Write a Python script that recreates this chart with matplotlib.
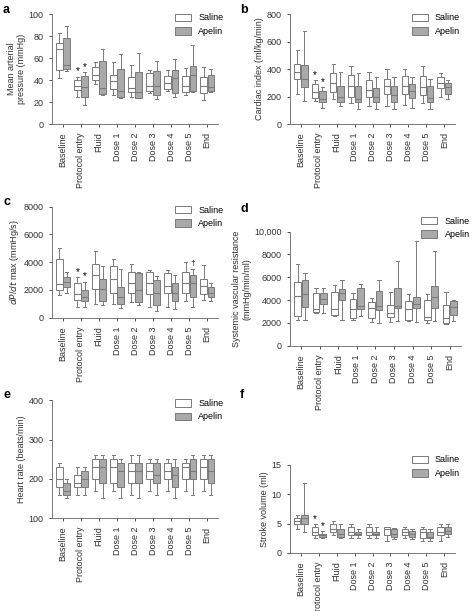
import matplotlib.pyplot as plt
from matplotlib.patches import Patch

categories = ["Baseline", "Protocol entry", "Fluid", "Dose 1", "Dose 2",
              "Dose 3", "Dose 4", "Dose 5", "End"]

# each box: [whisker low, q1, median, q3, whisker high]
map_saline = [[42, 49, 68, 74, 83], [25, 31, 35, 40, 43], [36, 40, 45, 52, 56],
              [26, 32, 39, 45, 56], [25, 29, 33, 43, 54], [28, 30, 35, 46, 49],
              [30, 32, 37, 44, 49], [26, 29, 35, 44, 51], [22, 28, 35, 43, 52]]
map_apelin = [[48, 50, 54, 78, 89], [17, 25, 34, 44, 47], [26, 27, 33, 57, 68],
              [24, 25, 30, 50, 64], [24, 24, 29, 47, 65], [23, 26, 35, 48, 57],
              [25, 28, 42, 49, 59], [29, 30, 45, 53, 72], [29, 30, 34, 45, 50]]

ci_saline = [[220, 330, 380, 440, 540], [170, 190, 230, 290, 320], [180, 230, 300, 370, 440],
             [150, 200, 280, 360, 420], [130, 200, 250, 320, 380], [130, 220, 280, 330, 400],
             [140, 220, 280, 350, 400], [150, 210, 270, 350, 420], [200, 260, 300, 340, 370]]
ci_apelin = [[170, 270, 330, 430, 680], [120, 160, 180, 240, 270], [130, 160, 200, 280, 380],
             [110, 160, 180, 280, 370], [110, 160, 200, 260, 340], [110, 160, 210, 280, 340],
             [120, 190, 240, 290, 340], [110, 160, 190, 280, 330], [180, 220, 270, 300, 320]]

dp_saline = [[1600, 2000, 2400, 4200, 5000], [800, 1300, 1700, 2500, 2900], [1000, 2100, 3100, 3900, 4800],
             [1000, 1800, 2800, 3700, 4200], [1100, 1800, 2500, 3300, 3900], [800, 1700, 2500, 3300, 3400],
             [800, 1800, 2300, 3200, 3400], [1200, 1800, 2500, 3300, 4000], [1300, 1700, 2300, 2800, 3800]]
dp_apelin = [[1800, 2200, 2600, 2900, 3300], [800, 1200, 1500, 2000, 2600], [900, 1200, 2100, 2800, 3700],
             [700, 1000, 1500, 2200, 3500], [900, 1100, 2000, 3200, 3300], [500, 900, 1800, 2700, 3000],
             [600, 1200, 1800, 2500, 3100], [800, 1500, 2500, 3100, 3500], [1200, 1500, 1800, 2200, 2500]]

svr_saline = [[2300, 2650, 4400, 5600, 7150], [2900, 3000, 3200, 4600, 5100], [2600, 2700, 3200, 4700, 5300],
              [2300, 2400, 3200, 4100, 4600], [2100, 2400, 3300, 3800, 4200], [2100, 2500, 2900, 3600, 4700],
              [2200, 2300, 3200, 3900, 4500], [2000, 2300, 2500, 4000, 4500], [1900, 2000, 2400, 3600, 4700]]
svr_apelin = [[2300, 3400, 4500, 5800, 6400], [2900, 3700, 4100, 4600, 5100], [2300, 4000, 4600, 5000, 5800],
              [2600, 3200, 3500, 5100, 5400], [2000, 3100, 3500, 4800, 5800], [2200, 3300, 3500, 5100, 7400],
              [2100, 3300, 3700, 4300, 9200], [2200, 3300, 4300, 5200, 8300], [2200, 2700, 3400, 3900, 4000]]

hr_saline = [[160, 180, 200, 230, 240], [160, 180, 190, 210, 230], [170, 200, 230, 250, 260],
             [170, 190, 230, 250, 260], [160, 190, 220, 240, 260], [170, 200, 220, 240, 250],
             [170, 200, 220, 240, 250], [170, 200, 230, 240, 250], [170, 200, 230, 250, 260]]
hr_apelin = [[150, 160, 170, 190, 200], [160, 180, 200, 220, 230], [150, 190, 230, 250, 260],
             [150, 180, 220, 240, 250], [150, 190, 220, 240, 260], [160, 190, 210, 240, 250],
             [150, 180, 210, 230, 250], [160, 200, 220, 250, 260], [160, 190, 220, 250, 260]]

sv_saline = [[4, 5, 5.5, 6, 6.5], [2.5, 3, 3.5, 4.5, 5], [3, 3.5, 4, 5, 5.5],
             [2.5, 3, 3.5, 4.5, 5], [2.5, 3, 3.5, 4.5, 5], [2, 3, 4, 4.5, 4.5],
             [2.5, 3, 3.5, 4, 4.5], [2, 2.5, 3.5, 4, 4.5], [2, 3, 3.5, 4.5, 5]]
sv_apelin = [[3.5, 5, 6, 6.5, 12], [2.5, 2.7, 3, 3.3, 3.7], [2.5, 2.8, 3.3, 4, 5],
             [2.5, 3, 3.3, 3.5, 4], [2.5, 3, 3.3, 3.5, 4.5], [2.3, 2.8, 3.3, 4, 4.3],
             [2.3, 2.7, 3.2, 3.8, 4], [2, 2.5, 2.7, 3.5, 4], [2.8, 3.2, 3.8, 4.5, 5]]

panels = [
    ("a", "Mean arterial\npressure (mmHg)", map_saline, map_apelin, (0, 100), [0, 20, 40, 60, 80, 100], None),
    ("b", "Cardiac index (ml/kg/min)", ci_saline, ci_apelin, (0, 800), [0, 200, 400, 600, 800], None),
    ("c", "$dP$/$dt$ max (mmHg/s)", dp_saline, dp_apelin, (0, 8000), [0, 2000, 4000, 6000, 8000], None),
    ("d", "Systemic vascular resistance\n(mmHg/min/ml)", svr_saline, svr_apelin, (0, 10000),
     [0, 2000, 4000, 6000, 8000, 10000], ["0", "2000", "4000", "6000", "8000", "10,000"]),
    ("e", "Heart rate (beats/min)", hr_saline, hr_apelin, (100, 400), [100, 200, 300, 400], None),
    ("f", "Stroke volume (ml)", sv_saline, sv_apelin, (0, 15), [0, 5, 10, 15], None),
]

# axes rects in figure fractions, tag positions in pixels, legend anchor
rects = [[0.11, 0.797, 0.35, 0.18], [0.612, 0.797, 0.348, 0.18],
         [0.11, 0.48, 0.35, 0.182], [0.612, 0.434, 0.36, 0.187],
         [0.11, 0.152, 0.35, 0.193], [0.612, 0.095, 0.348, 0.144]]
tags_px = [(3, 10), (240, 10), (3, 202), (240, 209), (3, 395), (240, 395)]
legend_anchor = [(1.08, 1.08), (1.08, 1.08), (1.08, 1.08), (1.1, 1.2), (1.08, 1.08), (1.08, 1.2)]

edge = "#7a7a7a"
fill_apelin = "#a9a9a9"


def stats(rows):
    return [dict(whislo=r[0], q1=r[1], med=r[2], q3=r[3], whishi=r[4], fliers=[]) for r in rows]


plt.rcParams['font.family'] = ['Liberation Sans', 'DejaVu Sans']
fig = plt.figure(figsize=(4.74, 6.11), dpi=100)
x = list(range(len(categories)))

for i, (tag, ylabel, sal, ape, ylim, yticks, yticklabels) in enumerate(panels):
    ax = fig.add_axes(rects[i])
    for data, off, fc in ((sal, -0.2, "white"), (ape, 0.2, fill_apelin)):
        ax.bxp(stats(data), positions=[p + off for p in x], widths=0.36, patch_artist=True,
               showfliers=False,
               boxprops=dict(facecolor=fc, edgecolor=edge, linewidth=0.7),
               medianprops=dict(color=edge, linewidth=0.8),
               whiskerprops=dict(color=edge, linewidth=0.7),
               capprops=dict(color=edge, linewidth=0.7))
    ax.set_xlim(-0.6, len(categories) - 0.4)
    ax.set_ylim(*ylim)
    ax.set_yticks(yticks)
    if yticklabels:
        ax.set_yticklabels(yticklabels)
    ax.set_xticks(x)
    ax.set_xticklabels(categories, rotation=90)
    ax.tick_params(labelsize=6.5, colors="#333333", width=0.6, length=2.5)
    for s in ("top", "right"):
        ax.spines[s].set_visible(False)
    for s in ("left", "bottom"):
        ax.spines[s].set_color(edge)
        ax.spines[s].set_linewidth(0.7)
    ax.set_ylabel(ylabel, fontsize=6.5, color="#333333", labelpad=2)
    tx, ty = tags_px[i]
    fig.text(tx / 474, 1 - ty / 611, tag, fontsize=9, fontweight="bold", va="center")
    handles = [Patch(facecolor="white", edgecolor=edge, linewidth=0.7, label="Saline"),
               Patch(facecolor=fill_apelin, edgecolor=edge, linewidth=0.7, label="Apelin")]
    ax.legend(handles=handles, loc="upper right", bbox_to_anchor=legend_anchor[i], frameon=False,
              fontsize=6.5, handlelength=1.8, handleheight=0.9)
    # significance marks at protocol entry
    if tag in ("a", "b", "c", "f"):
        span = ylim[1] - ylim[0]
        ax.text(0.8, sal[1][4] + 0.02 * span, "*", ha="center", fontsize=7)
        ax.text(1.2, ape[1][4] + 0.02 * span, "*", ha="center", fontsize=7)
    if tag == "c":
        ax.text(7.2, dp_apelin[7][4] + 300, "\u2020", ha="center", fontsize=6)

fig.savefig("out.png", dpi=100)
